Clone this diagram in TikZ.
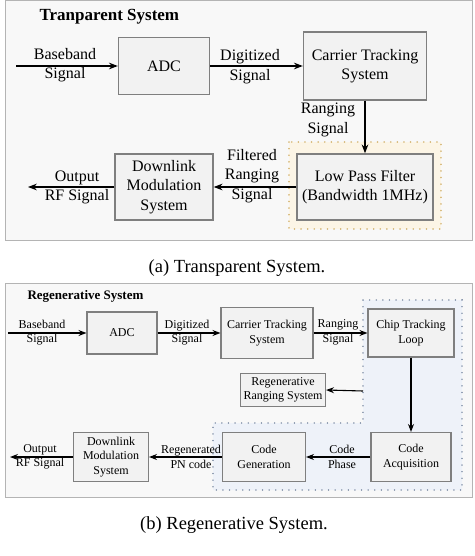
\documentclass[tikz,border=0pt]{standalone}
\usepackage{fontspec}
\setmainfont{Liberation Serif}
\usetikzlibrary{arrows.meta,
                positioning}
\definecolor{boxgray}{HTML}{7F7F7F}
\definecolor{boxfill}{HTML}{F2F2F2}
\definecolor{panelgray}{HTML}{B4B4B4}
\definecolor{panelfill}{HTML}{F8F8F8}
\definecolor{lpfdots}{HTML}{D6B878}
\definecolor{lpffill}{HTML}{FCF5E6}
\definecolor{loopdots}{HTML}{8A98AE}
\definecolor{loopfill}{HTML}{EEF2F9}
\tikzset{
        base/.style={draw=boxgray, fill=boxfill, align=center, inner sep=1pt},
        bigproc/.style={base, line width=1.4pt, font=\fontsize{16}{19.5}\selectfont},
        smallproc/.style={base, line width=1.1pt, font=\fontsize{12}{14.5}\selectfont},
        panel/.style={draw=panelgray, fill=panelfill, line width=1pt},
        sparsedots/.style={line cap=round, dash pattern=on 0.1pt off 6.5pt, line width=1.6pt},
        biglbl/.style={align=center, font=\fontsize{16}{19.5}\selectfont},
        smalllbl/.style={align=center, font=\fontsize{12}{14.5}\selectfont},
        caption/.style={font=\fontsize{18.5}{22}\selectfont},
        myarrow/.style={-Stealth, line width=1.3pt},
 }

\begin{document}
\begin{tikzpicture}[x=1pt, y=-1pt]
    \useasboundingbox (0,0) rectangle (474,556);

    % (a) transparent system
    \draw[panel] (5,1) rectangle (472,240);
    \node[anchor=west, font=\fontsize{17}{20}\selectfont\bfseries] (ttl) at (36,17) {Tranparent System};
    \draw[lpfdots, fill=lpffill, sparsedots] (289,142) rectangle (441,229);

    \node[bigproc, minimum width=91, minimum height=57] (adc) at (164,66) {ADC};
    \node[bigproc, minimum width=123, minimum height=68] (cts) at (365,66) {Carrier Tracking\\System};
    \node[bigproc, minimum width=136, minimum height=66] (lpf) at (365,187) {Low Pass Filter\\(Bandwidth 1MHz)};
    \node[bigproc, minimum width=98, minimum height=66] (dms) at (164,187) {Downlink\\Modulation\\System};
    \coordinate (in) at (16,66);
    \coordinate (out) at (28,187);

    \draw[myarrow] (in) -- (adc.west);
    \draw[myarrow] (adc.east) -- (cts.west);
    \draw[myarrow] (cts.south) -- (lpf.north);
    \draw[myarrow] (lpf.west) -- (dms.east);
    \draw[myarrow] (dms.west) -- (out);

    \node[biglbl] (l1) at (65,65) {Baseband\\Signal};
    \node[biglbl] (l2) at (250,66.5) {Digitized\\Signal};
    \node[biglbl] (l3) at (328,120) {Ranging\\Signal};
    \node[biglbl] (l4) at (252,176) {Filtered\\Ranging\\Signal};
    \node[biglbl] (l5) at (77,187.5) {Output\\RF Signal};

    \node[caption] (capa) at (237,268) {(a) Transparent System.};

    % (b) regenerative system
    \draw[panel] (5,283) rectangle (472,497);
    \node[anchor=west, font=\fontsize{13}{16}\selectfont\bfseries] (ttl2) at (24,296) {Regenerative System};
    \draw[loopdots, fill=loopfill, sparsedots, line width=1.4pt]
        (363,300) -- (462,300) -- (462,490) -- (213,490) -- (213,423) -- (363,423) -- cycle;

    \node[smallproc, minimum width=70, minimum height=42] (adc2) at (122,333) {ADC};
    \node[smallproc, minimum width=92, minimum height=51] (cts2) at (267,333) {Carrier Tracking\\System};
    \node[smallproc, minimum width=86, minimum height=48] (ctl) at (411,333) {Chip Tracking\\Loop};
    \node[smallproc, minimum width=85, minimum height=33] (rrs) at (283,390) {Regenerative\\Ranging System};
    \node[smallproc, minimum width=80, minimum height=49] (ca) at (411,457) {Code\\Acquisition};
    \node[smallproc, minimum width=83, minimum height=49] (cg) at (264,457) {Code\\Generation};
    \node[smallproc, minimum width=75, minimum height=49] (dms2) at (111,457) {Downlink\\Modulation\\System};
    \coordinate (in2) at (8,333);
    \coordinate (loopw) at (363,391);
    \coordinate (out2) at (10,457);

    \draw[myarrow, line width=1.1pt] (in2) -- (adc2.west);
    \draw[myarrow, line width=1.1pt] (adc2.east) -- (cts2.west);
    \draw[myarrow, line width=1.1pt] (cts2.east) -- (ctl.west);
    \draw[myarrow, line width=1.1pt] (loopw) -- (rrs.east);
    \draw[myarrow, line width=1.1pt] (ctl.south) -- (ca.north);
    \draw[myarrow, line width=1.1pt] (ca.west) -- (cg.east);
    \draw[myarrow, line width=1.1pt] (cg.west) -- (dms2.east);
    \draw[myarrow, line width=1.1pt] (dms2.west) -- (out2);

    \node[smalllbl] (m1) at (42,332.5) {Baseband\\Signal};
    \node[smalllbl] (m2) at (187,332.5) {Digitized\\Signal};
    \node[smalllbl] (m3) at (338,332.5) {Ranging\\Signal};
    \node[smalllbl] (m4) at (342,457) {Code\\Phase};
    \node[smalllbl] (m5) at (191,457) {Regenerated\\PN code};
    \node[smalllbl] (m6) at (40,457) {Output\\RF Signal};

    \node[caption] (capb) at (234,525) {(b) Regenerative System.};
\end{tikzpicture}
\end{document}
